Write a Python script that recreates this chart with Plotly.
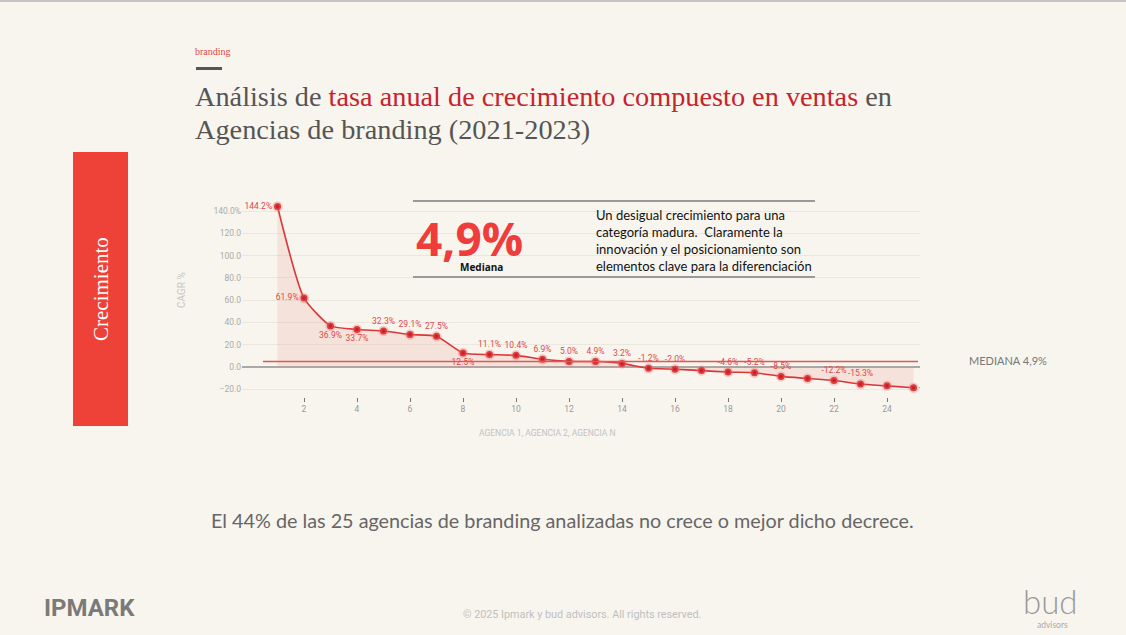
import plotly.graph_objects as go

# ---------------- data ----------------
agencias = list(range(1, 26))
cagr = [144.2, 61.9, 36.9, 33.7, 32.3, 29.1, 27.5, 12.5, 11.1, 10.4, 6.9, 5.0, 4.9,
        3.2, -1.2, -2.0, -3.3, -4.6, -5.2, -8.5, -10.4, -12.2, -15.3, -17.0, -18.7]
etiquetas = ["144.2%", "61.9%", "36.9%", "33.7%", "32.3%", "29.1%", "27.5%", "12.5%",
             "11.1%", "10.4%", "6.9%", "5.0%", "4.9%", "3.2%", "-1.2%", "-2.0%", "",
             "-4.6%", "-5.2%", "-8.5%", "", "-12.2%", "-15.3%", "", "-18.7%"]
posiciones = ["middle left", "middle left", "bottom center", "bottom center", "top center",
              "top center", "top center", "bottom center", "top center", "top center",
              "top center", "top center", "top center", "top center", "top center",
              "top center", "top center", "top center", "top center", "top center",
              "top center", "top center", "top center", "top center", "middle right"]
y_tickvals = [140, 120, 100, 80, 60, 40, 20, 0, -20]
y_ticktext = ["140.0%", "120.0", "100.0", "80.0", "60.0", "40.0", "20.0", "0.0", "\u221220.0"]
x_tickvals = [2, 4, 6, 8, 10, 12, 14, 16, 18, 20, 22, 24]
MEDIANA = 4.9

W, H = 1126, 635
BG = "#f8f5ee"
RED = "#c8232c"
LABEL_RED = "#e0474c"


def px(x):
    return x / W


def py(y):
    return 1 - y / H


fig = go.Figure()

# filled smooth line
fig.add_trace(go.Scatter(
    x=agencias, y=cagr, mode="lines",
    line=dict(color="#d9363a", width=1.6, shape="spline", smoothing=0.55),
    fill="tozeroy", fillcolor="rgba(228,132,118,0.16)",
    hoverinfo="skip", showlegend=False))

# markers with halo and labels
fig.add_trace(go.Scatter(
    x=agencias, y=cagr, mode="markers+text",
    marker=dict(size=7, color="#cc1f24",
                line=dict(width=3.5, color="rgba(240,120,120,0.35)")),
    text=etiquetas, textposition=posiciones,
    textfont=dict(family="Roboto", size=8.5, color=LABEL_RED),
    showlegend=False))

# median line
fig.add_shape(type="line", xref="x", yref="y", x0=0.45, x1=25.17,
              y0=MEDIANA, y1=MEDIANA, line=dict(color="#e0575a", width=1.5))

fig.update_xaxes(
    domain=[px(242), px(920)], range=[-0.34, 25.245],
    tickvals=x_tickvals, ticks="outside", ticklen=4, tickcolor="#777",
    tickwidth=1, showgrid=False, zeroline=False, showline=False,
    tickfont=dict(family="Roboto", size=8.5, color="#999"))
fig.update_yaxes(
    domain=[py(397), py(200)], range=[-27, 150],
    tickvals=y_tickvals, ticktext=y_ticktext, showgrid=True,
    gridcolor="#ebe7df", gridwidth=1, zeroline=True, zerolinecolor="#aaa9a5",
    zerolinewidth=2, showline=False, ticks="",
    tickfont=dict(family="Roboto", size=8.5, color="#aaa"))

ann = []


def add(x, y, text, font, xanchor="center", yanchor="middle", **kw):
    d = dict(xref="paper", yref="paper", x=px(x), y=py(y), text=text,
             showarrow=False, font=font, xanchor=xanchor, yanchor=yanchor)
    d.update(kw)
    ann.append(d)


# header
add(193, 52, "branding", dict(family="Liberation Serif", size=10, color=LABEL_RED),
    xanchor="left")
add(193, 96, "Análisis de <span style='color:%s'>tasa anual de crecimiento compuesto en ventas</span> en" % RED,
    dict(family="Liberation Serif", size=28.3, color="#555"), xanchor="left")
add(193, 130, "Agencias de branding (2021-2023)",
    dict(family="Liberation Serif", size=28.3, color="#555"), xanchor="left")
# side label
add(101, 289, "Crecimiento", dict(family="Liberation Serif", size=21, color="white"),
    textangle=-90)
# axis titles
add(181, 290, "CAGR %", dict(family="Roboto", size=10, color="#c8c8c8"), textangle=-90)
add(547, 433, "AGENCIA 1, AGENCIA 2, AGENCIA N", dict(family="Roboto", size=8.5, color="#c2c2c2"))
# median callout
add(469, 238, "<b>4,9%</b>", dict(family="Open Sans", size=46, color="#ee3d3a"))
add(481, 267, "<b>Mediana</b>", dict(family="Open Sans", size=10, color="#111"))
lineas = ["Un desigual crecimiento para una",
          "categoría madura.  Claramente la",
          "innovación y el posicionamiento son",
          "elementos clave para la diferenciación"]
for i, t in enumerate(lineas):
    add(594, 215 + i * 17, t, dict(family="Lato", size=13, color="#111"), xanchor="left")
add(967, 360, "MEDIANA 4,9%", dict(family="Lato", size=11, color="#777"), xanchor="left")
# conclusion
add(562, 520, "El 44% de las 25 agencias de branding analizadas no crece o mejor dicho decrece.",
    dict(family="Lato", size=19.8, color="#666"))
# footer
add(42, 608, "<b>IPMARK</b>", dict(family="Roboto", size=24, color="#7a7a78"), xanchor="left")
add(582, 614, "© 2025 Ipmark y bud advisors. All rights reserved.",
    dict(family="Roboto", size=10.8, color="#c0c0c0"))
add(1050, 601, "bud", dict(family="Lato", size=33, color="#9a9a9a", weight=300))
add(1052, 625, "advisors", dict(family="Lato", size=8.5, color="#aaa"))

shapes = [
    dict(type="line", xref="paper", yref="paper", x0=0, x1=1, y0=py(1), y1=py(1),
         line=dict(color="#c4c4c4", width=2)),
    dict(type="rect", xref="paper", yref="paper", x0=px(196), x1=px(222), y0=py(70), y1=py(67),
         fillcolor="#555", line=dict(width=0)),
    dict(type="rect", xref="paper", yref="paper", x0=px(73), x1=px(128), y0=py(426), y1=py(152),
         fillcolor="#ee4137", line=dict(width=0), layer="below"),
    dict(type="line", xref="paper", yref="paper", x0=px(413), x1=px(815), y0=py(201), y1=py(201),
         line=dict(color="#9a9a9a", width=2)),
    dict(type="line", xref="paper", yref="paper", x0=px(413), x1=px(815), y0=py(277), y1=py(277),
         line=dict(color="#9a9a9a", width=2)),
]
for s in shapes:
    fig.add_shape(**s)

fig.update_layout(
    width=W, height=H, margin=dict(l=0, r=0, t=0, b=0),
    paper_bgcolor=BG, plot_bgcolor=BG, annotations=ann, showlegend=False,
    font=dict(family="Roboto"))

fig.write_html("out.html")
